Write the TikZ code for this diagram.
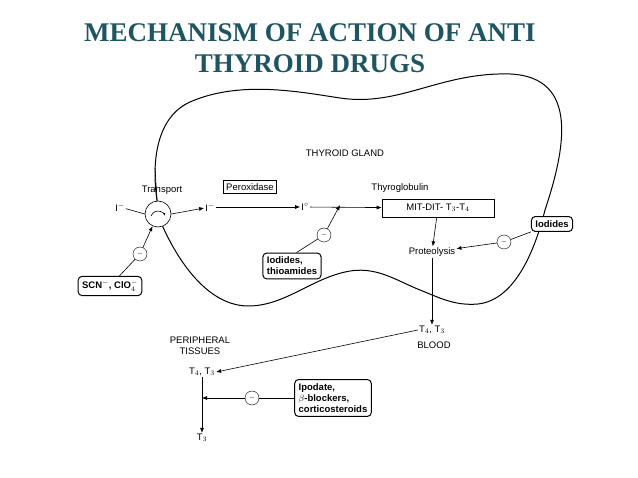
\documentclass[tikz,border=0pt]{standalone}
\usepackage{fontspec}
\setmainfont{Liberation Sans}
\newfontfamily\titlefont{Liberation Serif}
\usetikzlibrary{arrows.meta}
\definecolor{tcol}{HTML}{1E5562}
\begin{document}
\begin{tikzpicture}[x=1pt,y=-1pt,
  lbl/.style={font=\fontsize{9.5}{11}\selectfont,inner sep=1pt},
  bx/.style={draw,line width=0.6pt,font=\fontsize{9.5}{11}\selectfont,inner sep=3pt},
  drug/.style={draw,fill=white,line width=1pt,rounded corners=4pt,font=\fontsize{9.5}{11}\selectfont\bfseries,align=left,inner sep=4pt},
  mn/.style={draw,circle,fill=white,minimum size=14pt,inner sep=0pt,font=\fontsize{7}{8}\selectfont},
  ar/.style={-{Latex[length=5pt,width=4pt]},line width=0.6pt}]
\useasboundingbox (0,0) rectangle (638,478);
\node[font=\titlefont\fontsize{27}{31}\selectfont\bfseries,text=tcol,align=center] (title) at (310,48) {MECHANISM OF ACTION OF ANTI\\THYROID DRUGS};
% gland outline
\draw[line width=1pt] (162,225) .. controls (150,180) and (150,120) .. (190,102)
  .. controls (240,80) and (300,92) .. (340,98)
  .. controls (400,107) and (440,72) .. (510,74)
  .. controls (580,77) and (565,150) .. (545,210)
  .. controls (535,250) and (515,300) .. (478,304)
  .. controls (455,306) and (440,298) .. (420,290)
  .. controls (395,280) and (375,265) .. (345,272)
  .. controls (310,280) and (285,305) .. (250,306)
  .. controls (210,307) and (180,265) .. (162,225);
\node[lbl] (tg) at (345,153) {THYROID GLAND};
\node[lbl] (tr) at (162,190) {Transport};
\node[lbl] (i1) at (120,207) {I$^{-}$};
\node[draw,circle,minimum size=26pt,inner sep=0pt,fill=white,line width=0.6pt] (pump) at (158,214) {};
\draw[-{Latex[length=3pt]},line width=0.6pt] (151,216) arc (200:340:7.5);
\node[lbl] (i2) at (210,207) {I$^{-}$};
\node[bx] (perox) at (250,187) {Peroxidase};
\node[lbl] (i3) at (305,207) {I$^{\circ}$};
\node[lbl] (thyro) at (400,188) {Thyroglobulin};
\node[bx,minimum width=112pt,minimum height=18pt] (mit) at (438,208) {MIT-DIT- T$_3$-T$_4$};
\node[lbl] (prot) at (432,252) {Proteolysis};
\node[lbl] (blood) at (432,330) {T$_4$, T$_3$};
\node[lbl] (bl) at (434,345) {BLOOD};
\node[lbl,align=center] (per) at (200,346) {PERIPHERAL\\TISSUES};
\node[lbl] (pt) at (202,372) {T$_4$, T$_3$};
\node[lbl] (t3) at (202,438) {T$_3$};
\node[drug] (scn) at (110,286) {SCN$^{-}$, ClO$_4^{-}$};
\node[drug] (iod) at (292,266) {Iodides,\\thioamides};
\node[drug] (iodr) at (552,224) {Iodides};
\node[drug] (ipo) at (333,398) {Ipodate,\\$\beta$-blockers,\\corticosteroids};
\node[mn] (m1) at (140,254) {$-$};
\node[mn] (m2) at (324,235) {$-$};
\node[mn] (m3) at (504,242) {$-$};
\node[mn] (m4) at (252,398) {$-$};
\coordinate (tp) at (155,168);
\coordinate (jn) at (340,205);
\coordinate (vx) at (202,398);
\draw[line width=0.6pt] (tp) -- (pump);
\draw[ar] (i1) -- (pump.west) (pump.east) -- (i2);
\draw[ar] (i2) -- (i3);
\draw[ar] (i3) -- (mit);
\draw[ar] (mit) -- (prot);
\draw[ar] (prot) -- (blood);
\draw[ar] (blood.west) -- (pt.east);
\draw[ar] (pt) -- (t3);
\draw[line width=0.6pt] (scn) -- (m1); \draw[ar] (m1) -- (pump);
\draw[line width=0.6pt] (iod.north east) ++(-25,0) -- (m2); \draw[ar] (m2) -- (jn);
\draw[line width=0.6pt] (iodr) -- (m3); \draw[ar] (m3) -- (prot);
\draw[line width=0.6pt] (ipo) -- (m4); \draw[ar] (m4) -- (vx);
\end{tikzpicture}
\end{document}
